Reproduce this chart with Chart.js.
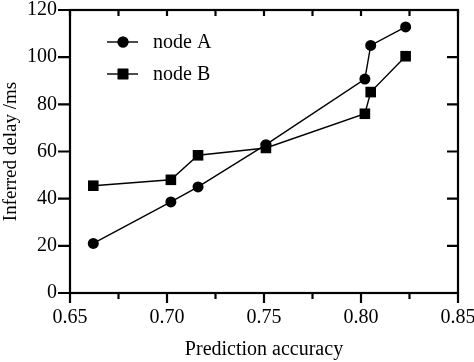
<!DOCTYPE html>
<html>
<head>
<meta charset="utf-8">
<script src="https://cdn.jsdelivr.net/npm/chart.js"></script>
<style>
  html, body { margin: 0; padding: 0; background: #ffffff; }
  #wrap { width: 474px; height: 362px; }
</style>
</head>
<body>
<div id="wrap"><canvas id="delayChart" width="474" height="362"></canvas></div>
<script>
// values
const accuracy = [0.662, 0.702, 0.716, 0.751, 0.802, 0.805, 0.823];
const nodeA = [21, 38.6, 45, 62.9, 90.7, 105, 112.8];
const nodeB = [45.5, 48, 58.4, 61.5, 76, 85.2, 100.4];
const seriesNames = ['node A', 'node B'];
const xTicks = [0.65, 0.70, 0.75, 0.80, 0.85];
const xMinorTicks = [0.675, 0.725, 0.775, 0.825];
const yTicks = [0, 20, 40, 60, 80, 100, 120];

const FONT = "'Liberation Serif', 'Times New Roman', serif";

const toPoints = ys => accuracy.map((x, i) => ({ x, y: ys[i] }));

// frame, tick marks and legend
const framePlugin = {
  id: 'frame',
  afterDraw(chart) {
    const { ctx, chartArea: a, scales } = chart;
    const sx = scales.x, sy = scales.y;
    ctx.save();
    ctx.strokeStyle = '#000';
    ctx.lineWidth = 2.2;
    ctx.strokeRect(a.left, a.top, a.right - a.left, a.bottom - a.top);

    ctx.beginPath();
    xTicks.forEach(v => {
      const px = sx.getPixelForValue(v);
      ctx.moveTo(px, a.bottom); ctx.lineTo(px, a.bottom + 10);
      ctx.moveTo(px, a.top); ctx.lineTo(px, a.top + 6);
    });
    xMinorTicks.forEach(v => {
      const px = sx.getPixelForValue(v);
      ctx.moveTo(px, a.bottom); ctx.lineTo(px, a.bottom + 6);
      ctx.moveTo(px, a.top); ctx.lineTo(px, a.top + 6);
    });
    yTicks.forEach(v => {
      const py = sy.getPixelForValue(v);
      ctx.moveTo(a.left - 12, py); ctx.lineTo(a.left, py);
      ctx.moveTo(a.right - 11, py); ctx.lineTo(a.right, py);
    });
    ctx.stroke();

    // legend
    const items = chart.data.datasets;
    items.forEach((ds, i) => {
      const y = 42 + i * 32;
      ctx.lineWidth = 1.4;
      ctx.beginPath();
      ctx.moveTo(107, y); ctx.lineTo(138, y);
      ctx.stroke();
      Chart.helpers.drawPoint(ctx, {
        pointStyle: ds.pointStyle, radius: ds.pointRadius, borderWidth: 0
      }, 123, y);
      ctx.fillStyle = '#000';
      ctx.fill();
      ctx.font = '20px ' + FONT;
      ctx.textBaseline = 'middle';
      ctx.fillText(ds.label, 153, y + 1);
    });
    ctx.restore();
  }
};

new Chart(document.getElementById('delayChart'), {
  type: 'line',
  data: {
    datasets: [
      {
        label: seriesNames[0],
        data: toPoints(nodeA),
        borderColor: '#000',
        backgroundColor: '#000',
        borderWidth: 1.4,
        pointStyle: 'circle',
        pointRadius: 5.5,
        pointBorderWidth: 0,
        tension: 0
      },
      {
        label: seriesNames[1],
        data: toPoints(nodeB),
        borderColor: '#000',
        backgroundColor: '#000',
        borderWidth: 1.4,
        pointStyle: 'rect',
        pointRadius: 7.5,
        pointBorderWidth: 0,
        tension: 0
      }
    ]
  },
  options: {
    responsive: false,
    animation: false,
    events: [],
    layout: { padding: { top: 10, right: 16, left: 0, bottom: 0 } },
    plugins: {
      legend: { display: false },
      tooltip: { enabled: false }
    },
    scales: {
      x: {
        type: 'linear',
        min: 0.65,
        max: 0.85,
        afterFit: s => { s.height = 69; s.paddingLeft = 0; s.paddingRight = 0; },
        afterBuildTicks: s => { s.ticks = xTicks.map(v => ({ value: v })); },
        grid: { display: false, drawTicks: false },
        border: { display: false },
        ticks: {
          color: '#000',
          font: { family: FONT, size: 20 },
          padding: 13,
          maxRotation: 0,
          callback: v => v.toFixed(2)
        },
        title: {
          display: true,
          text: 'Prediction accuracy',
          color: '#000',
          font: { family: FONT, size: 20 },
          padding: { top: 0, bottom: 0 }
        }
      },
      y: {
        min: 0,
        max: 120,
        afterFit: s => { s.width = 70; s.paddingTop = 0; s.paddingBottom = 0; },
        afterBuildTicks: s => { s.ticks = yTicks.map(v => ({ value: v })); },
        grid: { display: false, drawTicks: false },
        border: { display: false },
        ticks: {
          color: '#000',
          font: { family: FONT, size: 20 },
          padding: 13
        },
        title: {
          display: true,
          text: 'Inferred delay /ms',
          color: '#000',
          font: { family: FONT, size: 19 },
          padding: { top: 0, bottom: 0 }
        }
      }
    }
  },
  plugins: [framePlugin]
});
</script>
</body>
</html>
